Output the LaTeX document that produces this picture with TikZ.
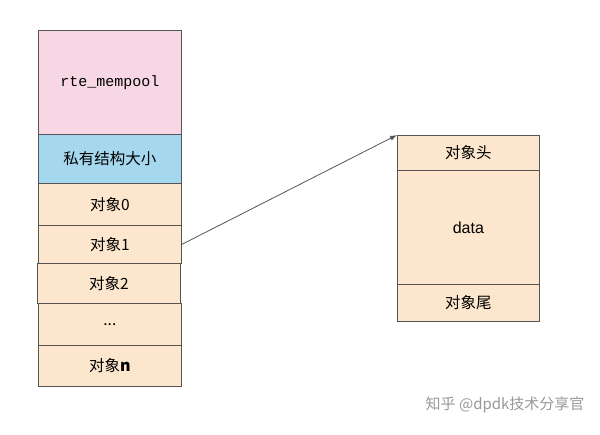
\documentclass[tikz,border=0pt]{standalone}
\usetikzlibrary{arrows.meta}
\usepackage{fontspec}
\setmainfont{Liberation Sans}
\newfontfamily\cjk{Noto Sans CJK SC}
\newfontfamily\mono{Liberation Mono}
\definecolor{pinkc}{HTML}{F8D7E4}
\definecolor{bluec}{HTML}{A5D8EE}
\definecolor{tanc}{HTML}{FCE6CD}
\definecolor{linec}{HTML}{555555}
\begin{document}
\begin{tikzpicture}[x=1pt,y=-1pt,
  cell/.style={draw=linec,line width=0.8pt,anchor=north west,inner sep=0pt,font=\cjk\fontsize{15.5}{17}\selectfont}]
\useasboundingbox (0,0) rectangle (600,434);
\fill[white] (0,0) rectangle (600,434);
\node[cell,fill=pinkc,minimum width=143,minimum height=104,font=\mono\fontsize{15}{17}\selectfont] (mp) at (38,30) {rte\_mempool};
\node[cell,fill=bluec,minimum width=143,minimum height=49] (priv) at (38,134) {私有结构大小};
\node[cell,fill=tanc,minimum width=143,minimum height=42] (o0) at (38,183) {对象0};
\node[cell,fill=tanc,minimum width=143,minimum height=38] (o1) at (38,225) {对象1};
\node[cell,fill=tanc,minimum width=143,minimum height=40] (o2) at (37,263) {对象2};
\node[cell,fill=tanc,minimum width=143,minimum height=42] (od) at (38,303) {...};
\node[cell,fill=tanc,minimum width=143,minimum height=41] (on) at (38,345) {对象{\fontsize{16}{17}\selectfont\bfseries n}};
\node[cell,fill=tanc,minimum width=142,minimum height=35] (h) at (397,135) {对象头};
\node[cell,fill=tanc,minimum width=142,minimum height=114,font=\fontsize{16}{17}\selectfont] (d) at (397,170) {data};
\node[cell,fill=tanc,minimum width=142,minimum height=37] (t) at (397,284) {对象尾};
\draw[linec,line width=0.8pt,-{Latex[length=7pt,width=5pt]}] (o1.east) -- (h.north west);
\node[font=\cjk\fontsize{15}{17}\selectfont,text=gray!80,anchor=east] (wm) at (588,405) {知乎 @dpdk技术分享官};
\end{tikzpicture}
\end{document}
